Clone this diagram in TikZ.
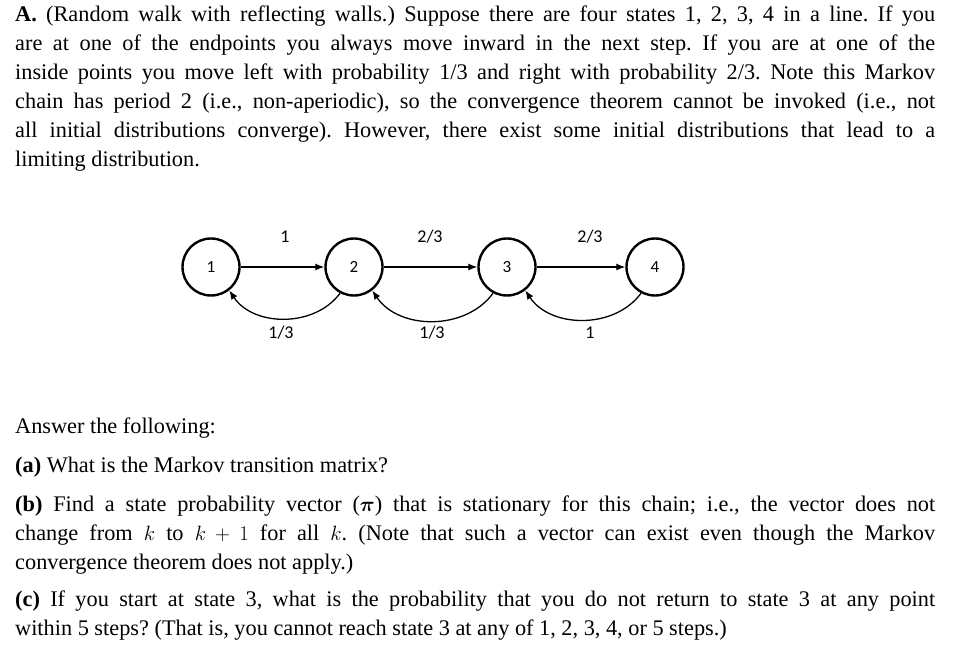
\documentclass[tikz,border=0pt]{standalone}
\usepackage{bm}
\usepackage{fontspec}
\setmainfont{Liberation Serif}
\newfontfamily\diag{Carlito}
\usetikzlibrary{arrows.meta}
\frenchspacing
\begin{document}
\begin{tikzpicture}[x=1pt,y=-1pt,
  st/.style={circle,draw,line width=2.4pt,minimum size=57pt,inner sep=0pt,font=\diag\fontsize{17}{19}\selectfont},
  lab/.style={font=\diag\fontsize{18}{20}\selectfont},
  arr/.style={-{Latex[length=9pt,width=7pt]},line width=1.3pt},
  para/.style={anchor=north west,text width=920pt,align=justify,inner sep=0pt,font=\frenchspacing\fontsize{22.3}{29}\selectfont}]
\useasboundingbox (0,0) rectangle (980,663);
\node[para] (p1) at (15,6) {\textbf{A.} (Random walk with reflecting walls.) Suppose there are four states 1, 2, 3, 4 in a line. If you\linebreak are at one of the endpoints you always move inward in the next step. If you are at one of the\linebreak inside points you move left with probability 1/3 and right with probability 2/3. Note this Markov\linebreak chain has period 2 (i.e., non-aperiodic), so the convergence theorem cannot be invoked (i.e., not\linebreak all initial distributions converge). However, there exist some initial distributions that lead to a\linebreak limiting distribution.};
\node[st] (n1) at (211,267) {1};
\node[st] (n2) at (354,267) {2};
\node[st] (n3) at (507,267) {3};
\node[st] (n4) at (655,267) {4};
\draw[arr] (n1) -- (n2);
\draw[arr] (n2) -- (n3);
\draw[arr] (n3) -- (n4);
\draw[arr] (n2.-118) to[bend left=55] (n1.-52);
\draw[arr] (n3.-118) to[bend left=55] (n2.-52);
\draw[arr] (n4.-118) to[bend left=55] (n3.-52);
\node[lab] (l1) at (285,237) {1};
\node[lab] (l2) at (430,237) {2/3};
\node[lab] (l3) at (590,237) {2/3};
\node[lab] (l4) at (281,333) {1/3};
\node[lab] (l5) at (432,333) {1/3};
\node[lab] (l6) at (590,333) {1};
\node[para] (ans) at (15,418) {Answer the following:};
\node[para] (qa) at (15,457) {\textbf{(a)} What is the Markov transition matrix?};
\node[para] (qb) at (15,496) {\textbf{(b)} Find a state probability vector ($\bm{\pi}$) that is stationary for this chain; i.e., the vector does not\linebreak change from $k$ to $k+1$ for all $k$. (Note that such a vector can exist even though the Markov\linebreak convergence theorem does not apply.)};
\node[para] (qc) at (15,591) {\textbf{(c)} If you start at state 3, what is the probability that you do not return to state 3 at any point\linebreak within 5 steps? (That is, you cannot reach state 3 at any of 1, 2, 3, 4, or 5 steps.)};
\end{tikzpicture}
\end{document}
